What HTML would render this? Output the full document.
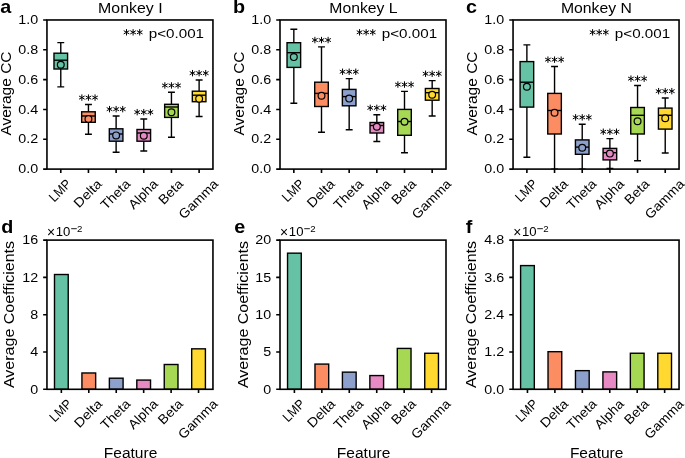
<!DOCTYPE html>
<html><head><meta charset="utf-8"><title>Figure</title><style>html,body{margin:0;padding:0;background:#fff;overflow:hidden}svg{display:block;will-change:transform;font-family:"Liberation Sans",sans-serif}</style></head><body>
<svg width="685" height="458" viewBox="0 0 685 458" font-family="Liberation Sans, sans-serif" fill="#000"><clipPath id="c00"><rect x="46.95" y="19.97" width="166" height="149.13"/></clipPath><g clip-path="url(#c00)">
<path d="M60.78 69V86.9M60.78 53.2V42.6M57.33 86.9H64.23M57.33 42.6H64.23" stroke="#000" stroke-width="1.4" fill="none"/>
<rect x="53.98" y="53.2" width="13.6" height="15.8" fill="#66c2a5" stroke="#000" stroke-width="1.4"/>
<path d="M53.98 60.2H67.58" stroke="#000" stroke-width="1.4"/>
<circle cx="60.78" cy="64.8" r="3.4" fill="#66c2a5" stroke="#000" stroke-width="1.2"/>
<path d="M88.45 122.3V134.3M88.45 111.8V104.45M85 134.3H91.9M85 104.45H91.9" stroke="#000" stroke-width="1.4" fill="none"/>
<rect x="81.65" y="111.8" width="13.6" height="10.5" fill="#fc8d62" stroke="#000" stroke-width="1.4"/>
<path d="M81.65 116H95.25" stroke="#000" stroke-width="1.4"/>
<circle cx="88.45" cy="119" r="3.4" fill="#fc8d62" stroke="#000" stroke-width="1.2"/>
<path d="M81.85 94.4V100.8M79.05 96L84.65 99.2M79.05 99.2L84.65 96M88.45 94.4V100.8M85.65 96L91.25 99.2M85.65 99.2L91.25 96M95.05 94.4V100.8M92.25 96L97.85 99.2M92.25 99.2L97.85 96" stroke="#000" stroke-width="1.0" fill="none"/>
<path d="M116.12 141.2V152.3M116.12 128.8V116M112.67 152.3H119.57M112.67 116H119.57" stroke="#000" stroke-width="1.4" fill="none"/>
<rect x="109.32" y="128.8" width="13.6" height="12.4" fill="#8da0cb" stroke="#000" stroke-width="1.4"/>
<path d="M109.32 134H122.92" stroke="#000" stroke-width="1.4"/>
<circle cx="116.12" cy="135.4" r="3.4" fill="#8da0cb" stroke="#000" stroke-width="1.2"/>
<path d="M109.52 105.95V112.35M106.72 107.55L112.32 110.75M106.72 110.75L112.32 107.55M116.12 105.95V112.35M113.32 107.55L118.92 110.75M113.32 110.75L118.92 107.55M122.72 105.95V112.35M119.92 107.55L125.52 110.75M119.92 110.75L125.52 107.55" stroke="#000" stroke-width="1.0" fill="none"/>
<path d="M143.78 141.2V151M143.78 129.5V119M140.33 151H147.23M140.33 119H147.23" stroke="#000" stroke-width="1.4" fill="none"/>
<rect x="136.98" y="129.5" width="13.6" height="11.7" fill="#e78ac3" stroke="#000" stroke-width="1.4"/>
<path d="M136.98 133H150.58" stroke="#000" stroke-width="1.4"/>
<circle cx="143.78" cy="135.8" r="3.4" fill="#e78ac3" stroke="#000" stroke-width="1.2"/>
<path d="M137.18 108.95V115.35M134.38 110.55L139.98 113.75M134.38 113.75L139.98 110.55M143.78 108.95V115.35M140.98 110.55L146.58 113.75M140.98 113.75L146.58 110.55M150.38 108.95V115.35M147.58 110.55L153.18 113.75M147.58 113.75L153.18 110.55" stroke="#000" stroke-width="1.0" fill="none"/>
<path d="M171.45 117.4V137.2M171.45 104.3V92.3M168 137.2H174.9M168 92.3H174.9" stroke="#000" stroke-width="1.4" fill="none"/>
<rect x="164.65" y="104.3" width="13.6" height="13.1" fill="#a6d854" stroke="#000" stroke-width="1.4"/>
<path d="M164.65 107H178.25" stroke="#000" stroke-width="1.4"/>
<circle cx="171.45" cy="112.2" r="3.4" fill="#a6d854" stroke="#000" stroke-width="1.2"/>
<path d="M164.85 82.25V88.65M162.05 83.85L167.65 87.05M162.05 87.05L167.65 83.85M171.45 82.25V88.65M168.65 83.85L174.25 87.05M168.65 87.05L174.25 83.85M178.05 82.25V88.65M175.25 83.85L180.85 87.05M175.25 87.05L180.85 83.85" stroke="#000" stroke-width="1.0" fill="none"/>
<path d="M199.12 101.7V116.5M199.12 91.2V80M195.67 116.5H202.57M195.67 80H202.57" stroke="#000" stroke-width="1.4" fill="none"/>
<rect x="192.32" y="91.2" width="13.6" height="10.5" fill="#ffd92f" stroke="#000" stroke-width="1.4"/>
<path d="M192.32 95.2H205.92" stroke="#000" stroke-width="1.4"/>
<circle cx="199.12" cy="98.7" r="3.4" fill="#ffd92f" stroke="#000" stroke-width="1.2"/>
<path d="M192.52 69.95V76.35M189.72 71.55L195.32 74.75M189.72 74.75L195.32 71.55M199.12 69.95V76.35M196.32 71.55L201.92 74.75M196.32 74.75L201.92 71.55M205.72 69.95V76.35M202.92 71.55L208.52 74.75M202.92 74.75L208.52 71.55" stroke="#000" stroke-width="1.0" fill="none"/>
</g>
<rect x="46.95" y="19.97" width="166" height="149.13" fill="none" stroke="#000" stroke-width="1.6" stroke-linejoin="miter"/>
<path d="M60.78 169.1v3.8M88.45 169.1v3.8M116.12 169.1v3.8M143.78 169.1v3.8M171.45 169.1v3.8M199.12 169.1v3.8M46.95 169.1h-3.8M46.95 139.27h-3.8M46.95 109.45h-3.8M46.95 79.62h-3.8M46.95 49.8h-3.8M46.95 19.97h-3.8" stroke="#000" stroke-width="1.6"/>
<text x="38.15" y="173.3" font-size="13.25" text-anchor="end" textLength="19.88" lengthAdjust="spacingAndGlyphs" style="">0.0</text>
<text x="38.15" y="143.47" font-size="13.25" text-anchor="end" textLength="19.88" lengthAdjust="spacingAndGlyphs" style="">0.2</text>
<text x="38.15" y="113.65" font-size="13.25" text-anchor="end" textLength="19.88" lengthAdjust="spacingAndGlyphs" style="">0.4</text>
<text x="38.15" y="83.82" font-size="13.25" text-anchor="end" textLength="19.88" lengthAdjust="spacingAndGlyphs" style="">0.6</text>
<text x="38.15" y="54" font-size="13.25" text-anchor="end" textLength="19.88" lengthAdjust="spacingAndGlyphs" style="">0.8</text>
<text x="38.15" y="24.17" font-size="13.25" text-anchor="end" textLength="19.88" lengthAdjust="spacingAndGlyphs" style="">1.0</text>
<text transform="translate(54.28 202.7) rotate(-45)" font-size="13.25" text-anchor="start" textLength="25.29" lengthAdjust="spacingAndGlyphs" style="">LMP</text>
<text transform="translate(79.1 208.4) rotate(-45)" font-size="13.25" text-anchor="start" textLength="33.35" lengthAdjust="spacingAndGlyphs" style="">Delta</text>
<text transform="translate(105.9 210.14) rotate(-45)" font-size="13.25" text-anchor="start" textLength="35.81" lengthAdjust="spacingAndGlyphs" style="">Theta</text>
<text transform="translate(133.66 209.95) rotate(-45)" font-size="13.25" text-anchor="start" textLength="35.54" lengthAdjust="spacingAndGlyphs" style="">Alpha</text>
<text transform="translate(163.7 205.2) rotate(-45)" font-size="13.25" text-anchor="start" textLength="28.83" lengthAdjust="spacingAndGlyphs" style="">Beta</text>
<text transform="translate(184.11 219.72) rotate(-45)" font-size="13.25" text-anchor="start" textLength="49.36" lengthAdjust="spacingAndGlyphs" style="">Gamma</text>
<text transform="translate(10.9 93.53) rotate(-90)" font-size="14.72" text-anchor="middle" textLength="84.11" lengthAdjust="spacingAndGlyphs" style="">Average CC</text>
<text x="130.35" y="13.3" font-size="14.72" text-anchor="middle" textLength="64.48" lengthAdjust="spacingAndGlyphs" style="">Monkey I</text>
<text x="204.05" y="37.8" font-size="13.25" text-anchor="end" textLength="55.28" lengthAdjust="spacingAndGlyphs" style="">p<0.001</text>
<path d="M126.5 29.1V35.5M123.7 30.7L129.3 33.9M123.7 33.9L129.3 30.7M133.1 29.1V35.5M130.3 30.7L135.9 33.9M130.3 33.9L135.9 30.7M139.7 29.1V35.5M136.9 30.7L142.5 33.9M136.9 33.9L142.5 30.7" stroke="#000" stroke-width="1.0" fill="none"/>
<text x="0.22" y="12.85" font-size="17.66" font-weight="bold" textLength="11" lengthAdjust="spacingAndGlyphs">a</text>
<clipPath id="c01"><rect x="280" y="19.97" width="166" height="149.13"/></clipPath><g clip-path="url(#c01)">
<path d="M293.83 67.4V103.2M293.83 42.7V29.2M290.38 103.2H297.28M290.38 29.2H297.28" stroke="#000" stroke-width="1.4" fill="none"/>
<rect x="287.03" y="42.7" width="13.6" height="24.7" fill="#66c2a5" stroke="#000" stroke-width="1.4"/>
<path d="M287.03 52.7H300.63" stroke="#000" stroke-width="1.4"/>
<circle cx="293.83" cy="57.1" r="3.4" fill="#66c2a5" stroke="#000" stroke-width="1.2"/>
<path d="M321.5 106.5V132.3M321.5 82.2V46.9M318.05 132.3H324.95M318.05 46.9H324.95" stroke="#000" stroke-width="1.4" fill="none"/>
<rect x="314.7" y="82.2" width="13.6" height="24.3" fill="#fc8d62" stroke="#000" stroke-width="1.4"/>
<path d="M314.7 93.4H328.3" stroke="#000" stroke-width="1.4"/>
<circle cx="321.5" cy="95.7" r="3.4" fill="#fc8d62" stroke="#000" stroke-width="1.2"/>
<path d="M314.9 36.85V43.25M312.1 38.45L317.7 41.65M312.1 41.65L317.7 38.45M321.5 36.85V43.25M318.7 38.45L324.3 41.65M318.7 41.65L324.3 38.45M328.1 36.85V43.25M325.3 38.45L330.9 41.65M325.3 41.65L330.9 38.45" stroke="#000" stroke-width="1.0" fill="none"/>
<path d="M349.17 105.8V129.7M349.17 89.4V78.6M345.72 129.7H352.62M345.72 78.6H352.62" stroke="#000" stroke-width="1.4" fill="none"/>
<rect x="342.37" y="89.4" width="13.6" height="16.4" fill="#8da0cb" stroke="#000" stroke-width="1.4"/>
<path d="M342.37 96.6H355.97" stroke="#000" stroke-width="1.4"/>
<circle cx="349.17" cy="98.6" r="3.4" fill="#8da0cb" stroke="#000" stroke-width="1.2"/>
<path d="M342.57 68.55V74.95M339.77 70.15L345.37 73.35M339.77 73.35L345.37 70.15M349.17 68.55V74.95M346.37 70.15L351.97 73.35M346.37 73.35L351.97 70.15M355.77 68.55V74.95M352.97 70.15L358.57 73.35M352.97 73.35L358.57 70.15" stroke="#000" stroke-width="1.0" fill="none"/>
<path d="M376.83 133V141.5M376.83 122.5V114.7M373.38 141.5H380.28M373.38 114.7H380.28" stroke="#000" stroke-width="1.4" fill="none"/>
<rect x="370.03" y="122.5" width="13.6" height="10.5" fill="#e78ac3" stroke="#000" stroke-width="1.4"/>
<path d="M370.03 125.5H383.63" stroke="#000" stroke-width="1.4"/>
<circle cx="376.83" cy="126.8" r="3.4" fill="#e78ac3" stroke="#000" stroke-width="1.2"/>
<path d="M370.23 104.65V111.05M367.43 106.25L373.03 109.45M367.43 109.45L373.03 106.25M376.83 104.65V111.05M374.03 106.25L379.63 109.45M374.03 109.45L379.63 106.25M383.43 104.65V111.05M380.63 106.25L386.23 109.45M380.63 109.45L386.23 106.25" stroke="#000" stroke-width="1.0" fill="none"/>
<path d="M404.5 135.3V152.7M404.5 109.4V91.4M401.05 152.7H407.95M401.05 91.4H407.95" stroke="#000" stroke-width="1.4" fill="none"/>
<rect x="397.7" y="109.4" width="13.6" height="25.9" fill="#a6d854" stroke="#000" stroke-width="1.4"/>
<path d="M397.7 121.5H411.3" stroke="#000" stroke-width="1.4"/>
<circle cx="404.5" cy="121.75" r="3.4" fill="#a6d854" stroke="#000" stroke-width="1.2"/>
<path d="M397.9 81.35V87.75M395.1 82.95L400.7 86.15M395.1 86.15L400.7 82.95M404.5 81.35V87.75M401.7 82.95L407.3 86.15M401.7 86.15L407.3 82.95M411.1 81.35V87.75M408.3 82.95L413.9 86.15M408.3 86.15L413.9 82.95" stroke="#000" stroke-width="1.0" fill="none"/>
<path d="M432.17 100.2V116M432.17 88.5V80.6M428.72 116H435.62M428.72 80.6H435.62" stroke="#000" stroke-width="1.4" fill="none"/>
<rect x="425.37" y="88.5" width="13.6" height="11.7" fill="#ffd92f" stroke="#000" stroke-width="1.4"/>
<path d="M425.37 92.7H438.97" stroke="#000" stroke-width="1.4"/>
<circle cx="432.17" cy="94.7" r="3.4" fill="#ffd92f" stroke="#000" stroke-width="1.2"/>
<path d="M425.57 70.55V76.95M422.77 72.15L428.37 75.35M422.77 75.35L428.37 72.15M432.17 70.55V76.95M429.37 72.15L434.97 75.35M429.37 75.35L434.97 72.15M438.77 70.55V76.95M435.97 72.15L441.57 75.35M435.97 75.35L441.57 72.15" stroke="#000" stroke-width="1.0" fill="none"/>
</g>
<rect x="280" y="19.97" width="166" height="149.13" fill="none" stroke="#000" stroke-width="1.6" stroke-linejoin="miter"/>
<path d="M293.83 169.1v3.8M321.5 169.1v3.8M349.17 169.1v3.8M376.83 169.1v3.8M404.5 169.1v3.8M432.17 169.1v3.8M280 169.1h-3.8M280 139.27h-3.8M280 109.45h-3.8M280 79.62h-3.8M280 49.8h-3.8M280 19.97h-3.8" stroke="#000" stroke-width="1.6"/>
<text x="271.2" y="173.3" font-size="13.25" text-anchor="end" textLength="19.88" lengthAdjust="spacingAndGlyphs" style="">0.0</text>
<text x="271.2" y="143.47" font-size="13.25" text-anchor="end" textLength="19.88" lengthAdjust="spacingAndGlyphs" style="">0.2</text>
<text x="271.2" y="113.65" font-size="13.25" text-anchor="end" textLength="19.88" lengthAdjust="spacingAndGlyphs" style="">0.4</text>
<text x="271.2" y="83.82" font-size="13.25" text-anchor="end" textLength="19.88" lengthAdjust="spacingAndGlyphs" style="">0.6</text>
<text x="271.2" y="54" font-size="13.25" text-anchor="end" textLength="19.88" lengthAdjust="spacingAndGlyphs" style="">0.8</text>
<text x="271.2" y="24.17" font-size="13.25" text-anchor="end" textLength="19.88" lengthAdjust="spacingAndGlyphs" style="">1.0</text>
<text transform="translate(287.33 202.7) rotate(-45)" font-size="13.25" text-anchor="start" textLength="25.29" lengthAdjust="spacingAndGlyphs" style="">LMP</text>
<text transform="translate(312.15 208.4) rotate(-45)" font-size="13.25" text-anchor="start" textLength="33.35" lengthAdjust="spacingAndGlyphs" style="">Delta</text>
<text transform="translate(338.95 210.14) rotate(-45)" font-size="13.25" text-anchor="start" textLength="35.81" lengthAdjust="spacingAndGlyphs" style="">Theta</text>
<text transform="translate(366.71 209.95) rotate(-45)" font-size="13.25" text-anchor="start" textLength="35.54" lengthAdjust="spacingAndGlyphs" style="">Alpha</text>
<text transform="translate(396.75 205.2) rotate(-45)" font-size="13.25" text-anchor="start" textLength="28.83" lengthAdjust="spacingAndGlyphs" style="">Beta</text>
<text transform="translate(417.16 219.72) rotate(-45)" font-size="13.25" text-anchor="start" textLength="49.36" lengthAdjust="spacingAndGlyphs" style="">Gamma</text>
<text transform="translate(243.95 93.53) rotate(-90)" font-size="14.72" text-anchor="middle" textLength="84.11" lengthAdjust="spacingAndGlyphs" style="">Average CC</text>
<text x="363.4" y="13.3" font-size="14.72" text-anchor="middle" textLength="68.24" lengthAdjust="spacingAndGlyphs" style="">Monkey L</text>
<text x="437.1" y="37.8" font-size="13.25" text-anchor="end" textLength="55.28" lengthAdjust="spacingAndGlyphs" style="">p<0.001</text>
<path d="M359.55 29.1V35.5M356.75 30.7L362.35 33.9M356.75 33.9L362.35 30.7M366.15 29.1V35.5M363.35 30.7L368.95 33.9M363.35 33.9L368.95 30.7M372.75 29.1V35.5M369.95 30.7L375.55 33.9M369.95 33.9L375.55 30.7" stroke="#000" stroke-width="1.0" fill="none"/>
<text x="232.9" y="12.85" font-size="17.66" font-weight="bold" textLength="12.08" lengthAdjust="spacingAndGlyphs">b</text>
<clipPath id="c02"><rect x="513.05" y="19.97" width="166" height="149.13"/></clipPath><g clip-path="url(#c02)">
<path d="M526.88 107.1V157.2M526.88 61.6V44.9M523.43 157.2H530.33M523.43 44.9H530.33" stroke="#000" stroke-width="1.4" fill="none"/>
<rect x="520.08" y="61.6" width="13.6" height="45.5" fill="#66c2a5" stroke="#000" stroke-width="1.4"/>
<path d="M520.08 82.2H533.68" stroke="#000" stroke-width="1.4"/>
<circle cx="526.88" cy="86.8" r="3.4" fill="#66c2a5" stroke="#000" stroke-width="1.2"/>
<path d="M554.55 134V169.1M554.55 93.4V66.5M551.1 169.1H558M551.1 66.5H558" stroke="#000" stroke-width="1.4" fill="none"/>
<rect x="547.75" y="93.4" width="13.6" height="40.6" fill="#fc8d62" stroke="#000" stroke-width="1.4"/>
<path d="M547.75 110.5H561.35" stroke="#000" stroke-width="1.4"/>
<circle cx="554.55" cy="112.7" r="3.4" fill="#fc8d62" stroke="#000" stroke-width="1.2"/>
<path d="M547.95 56.45V62.85M545.15 58.05L550.75 61.25M545.15 61.25L550.75 58.05M554.55 56.45V62.85M551.75 58.05L557.35 61.25M551.75 61.25L557.35 58.05M561.15 56.45V62.85M558.35 58.05L563.95 61.25M558.35 61.25L563.95 58.05" stroke="#000" stroke-width="1.0" fill="none"/>
<path d="M582.22 154.3V169.1M582.22 139.9V124.2M578.77 169.1H585.67M578.77 124.2H585.67" stroke="#000" stroke-width="1.4" fill="none"/>
<rect x="575.42" y="139.9" width="13.6" height="14.4" fill="#8da0cb" stroke="#000" stroke-width="1.4"/>
<path d="M575.42 147.1H589.02" stroke="#000" stroke-width="1.4"/>
<circle cx="582.22" cy="147.7" r="3.4" fill="#8da0cb" stroke="#000" stroke-width="1.2"/>
<path d="M575.62 114.15V120.55M572.82 115.75L578.42 118.95M572.82 118.95L578.42 115.75M582.22 114.15V120.55M579.42 115.75L585.02 118.95M579.42 118.95L585.02 115.75M588.82 114.15V120.55M586.02 115.75L591.62 118.95M586.02 118.95L591.62 115.75" stroke="#000" stroke-width="1.0" fill="none"/>
<path d="M609.88 159.9V168.4M609.88 148.4V138.6M606.43 168.4H613.33M606.43 138.6H613.33" stroke="#000" stroke-width="1.4" fill="none"/>
<rect x="603.08" y="148.4" width="13.6" height="11.5" fill="#e78ac3" stroke="#000" stroke-width="1.4"/>
<path d="M603.08 152.7H616.68" stroke="#000" stroke-width="1.4"/>
<circle cx="609.88" cy="153.6" r="3.4" fill="#e78ac3" stroke="#000" stroke-width="1.2"/>
<path d="M603.28 128.55V134.95M600.48 130.15L606.08 133.35M600.48 133.35L606.08 130.15M609.88 128.55V134.95M607.08 130.15L612.68 133.35M607.08 133.35L612.68 130.15M616.48 128.55V134.95M613.68 130.15L619.28 133.35M613.68 133.35L619.28 130.15" stroke="#000" stroke-width="1.0" fill="none"/>
<path d="M637.55 134V160.8M637.55 107.5V85.5M634.1 160.8H641M634.1 85.5H641" stroke="#000" stroke-width="1.4" fill="none"/>
<rect x="630.75" y="107.5" width="13.6" height="26.5" fill="#a6d854" stroke="#000" stroke-width="1.4"/>
<path d="M630.75 115.3H644.35" stroke="#000" stroke-width="1.4"/>
<circle cx="637.55" cy="121.2" r="3.4" fill="#a6d854" stroke="#000" stroke-width="1.2"/>
<path d="M630.95 75.45V81.85M628.15 77.05L633.75 80.25M628.15 80.25L633.75 77.05M637.55 75.45V81.85M634.75 77.05L640.35 80.25M634.75 80.25L640.35 77.05M644.15 75.45V81.85M641.35 77.05L646.95 80.25M641.35 80.25L646.95 77.05" stroke="#000" stroke-width="1.0" fill="none"/>
<path d="M665.22 129.1V153M665.22 108.1V98M661.77 153H668.67M661.77 98H668.67" stroke="#000" stroke-width="1.4" fill="none"/>
<rect x="658.42" y="108.1" width="13.6" height="21" fill="#ffd92f" stroke="#000" stroke-width="1.4"/>
<path d="M658.42 115.3H672.02" stroke="#000" stroke-width="1.4"/>
<circle cx="665.22" cy="118.3" r="3.4" fill="#ffd92f" stroke="#000" stroke-width="1.2"/>
<path d="M658.62 87.95V94.35M655.82 89.55L661.42 92.75M655.82 92.75L661.42 89.55M665.22 87.95V94.35M662.42 89.55L668.02 92.75M662.42 92.75L668.02 89.55M671.82 87.95V94.35M669.02 89.55L674.62 92.75M669.02 92.75L674.62 89.55" stroke="#000" stroke-width="1.0" fill="none"/>
</g>
<rect x="513.05" y="19.97" width="166" height="149.13" fill="none" stroke="#000" stroke-width="1.6" stroke-linejoin="miter"/>
<path d="M526.88 169.1v3.8M554.55 169.1v3.8M582.22 169.1v3.8M609.88 169.1v3.8M637.55 169.1v3.8M665.22 169.1v3.8M513.05 169.1h-3.8M513.05 139.27h-3.8M513.05 109.45h-3.8M513.05 79.62h-3.8M513.05 49.8h-3.8M513.05 19.97h-3.8" stroke="#000" stroke-width="1.6"/>
<text x="504.25" y="173.3" font-size="13.25" text-anchor="end" textLength="19.88" lengthAdjust="spacingAndGlyphs" style="">0.0</text>
<text x="504.25" y="143.47" font-size="13.25" text-anchor="end" textLength="19.88" lengthAdjust="spacingAndGlyphs" style="">0.2</text>
<text x="504.25" y="113.65" font-size="13.25" text-anchor="end" textLength="19.88" lengthAdjust="spacingAndGlyphs" style="">0.4</text>
<text x="504.25" y="83.82" font-size="13.25" text-anchor="end" textLength="19.88" lengthAdjust="spacingAndGlyphs" style="">0.6</text>
<text x="504.25" y="54" font-size="13.25" text-anchor="end" textLength="19.88" lengthAdjust="spacingAndGlyphs" style="">0.8</text>
<text x="504.25" y="24.17" font-size="13.25" text-anchor="end" textLength="19.88" lengthAdjust="spacingAndGlyphs" style="">1.0</text>
<text transform="translate(520.38 202.7) rotate(-45)" font-size="13.25" text-anchor="start" textLength="25.29" lengthAdjust="spacingAndGlyphs" style="">LMP</text>
<text transform="translate(545.2 208.4) rotate(-45)" font-size="13.25" text-anchor="start" textLength="33.35" lengthAdjust="spacingAndGlyphs" style="">Delta</text>
<text transform="translate(572 210.14) rotate(-45)" font-size="13.25" text-anchor="start" textLength="35.81" lengthAdjust="spacingAndGlyphs" style="">Theta</text>
<text transform="translate(599.76 209.95) rotate(-45)" font-size="13.25" text-anchor="start" textLength="35.54" lengthAdjust="spacingAndGlyphs" style="">Alpha</text>
<text transform="translate(629.8 205.2) rotate(-45)" font-size="13.25" text-anchor="start" textLength="28.83" lengthAdjust="spacingAndGlyphs" style="">Beta</text>
<text transform="translate(650.21 219.72) rotate(-45)" font-size="13.25" text-anchor="start" textLength="49.36" lengthAdjust="spacingAndGlyphs" style="">Gamma</text>
<text transform="translate(477 93.53) rotate(-90)" font-size="14.72" text-anchor="middle" textLength="84.11" lengthAdjust="spacingAndGlyphs" style="">Average CC</text>
<text x="596.45" y="13.3" font-size="14.72" text-anchor="middle" textLength="70.97" lengthAdjust="spacingAndGlyphs" style="">Monkey N</text>
<text x="670.15" y="37.8" font-size="13.25" text-anchor="end" textLength="55.28" lengthAdjust="spacingAndGlyphs" style="">p<0.001</text>
<path d="M592.6 29.1V35.5M589.8 30.7L595.4 33.9M589.8 33.9L595.4 30.7M599.2 29.1V35.5M596.4 30.7L602 33.9M596.4 33.9L602 30.7M605.8 29.1V35.5M603 30.7L608.6 33.9M603 33.9L608.6 30.7" stroke="#000" stroke-width="1.0" fill="none"/>
<text x="466.03" y="12.85" font-size="17.66" font-weight="bold" textLength="11" lengthAdjust="spacingAndGlyphs">c</text>
<clipPath id="c10"><rect x="46.95" y="240.1" width="166" height="149.2"/></clipPath><g clip-path="url(#c10)">
<rect x="54.5" y="274.51" width="13.72" height="114.79" fill="#66c2a5" stroke="#000" stroke-width="1.4"/>
<rect x="81.93" y="372.98" width="13.72" height="16.32" fill="#fc8d62" stroke="#000" stroke-width="1.4"/>
<rect x="109.37" y="378.2" width="13.72" height="11.1" fill="#8da0cb" stroke="#000" stroke-width="1.4"/>
<rect x="136.81" y="380.07" width="13.72" height="9.23" fill="#e78ac3" stroke="#000" stroke-width="1.4"/>
<rect x="164.25" y="364.5" width="13.72" height="24.8" fill="#a6d854" stroke="#000" stroke-width="1.4"/>
<rect x="191.69" y="348.83" width="13.72" height="40.47" fill="#ffd92f" stroke="#000" stroke-width="1.4"/>
</g>
<rect x="46.95" y="240.1" width="166" height="149.2" fill="none" stroke="#000" stroke-width="1.6" stroke-linejoin="miter"/>
<path d="M61.35 389.3v3.8M88.79 389.3v3.8M116.23 389.3v3.8M143.67 389.3v3.8M171.11 389.3v3.8M198.55 389.3v3.8M46.95 389.3h-3.8M46.95 352h-3.8M46.95 314.7h-3.8M46.95 277.4h-3.8M46.95 240.1h-3.8" stroke="#000" stroke-width="1.6"/>
<text x="38.15" y="393.5" font-size="13.25" text-anchor="end" textLength="7.95" lengthAdjust="spacingAndGlyphs" style="">0</text>
<text x="38.15" y="356.2" font-size="13.25" text-anchor="end" textLength="7.95" lengthAdjust="spacingAndGlyphs" style="">4</text>
<text x="38.15" y="318.9" font-size="13.25" text-anchor="end" textLength="7.95" lengthAdjust="spacingAndGlyphs" style="">8</text>
<text x="38.15" y="281.6" font-size="13.25" text-anchor="end" textLength="15.91" lengthAdjust="spacingAndGlyphs" style="">12</text>
<text x="38.15" y="244.3" font-size="13.25" text-anchor="end" textLength="15.91" lengthAdjust="spacingAndGlyphs" style="">16</text>
<text transform="translate(54.85 422.7) rotate(-45)" font-size="13.25" text-anchor="start" textLength="25.29" lengthAdjust="spacingAndGlyphs" style="">LMP</text>
<text transform="translate(79.44 428.4) rotate(-45)" font-size="13.25" text-anchor="start" textLength="33.35" lengthAdjust="spacingAndGlyphs" style="">Delta</text>
<text transform="translate(106.01 430.14) rotate(-45)" font-size="13.25" text-anchor="start" textLength="35.81" lengthAdjust="spacingAndGlyphs" style="">Theta</text>
<text transform="translate(133.54 429.95) rotate(-45)" font-size="13.25" text-anchor="start" textLength="35.54" lengthAdjust="spacingAndGlyphs" style="">Alpha</text>
<text transform="translate(163.35 425.2) rotate(-45)" font-size="13.25" text-anchor="start" textLength="28.83" lengthAdjust="spacingAndGlyphs" style="">Beta</text>
<text transform="translate(183.53 439.72) rotate(-45)" font-size="13.25" text-anchor="start" textLength="49.36" lengthAdjust="spacingAndGlyphs" style="">Gamma</text>
<text transform="translate(14.2 314.5) rotate(-90)" font-size="14.72" text-anchor="middle" textLength="147.06" lengthAdjust="spacingAndGlyphs" style="">Average Coefficients</text>
<text x="130.55" y="457.7" font-size="14.72" text-anchor="middle" textLength="53.55" lengthAdjust="spacingAndGlyphs" style="">Feature</text>
<text x="47.04" y="236.63" font-size="13.89" textLength="8.12" lengthAdjust="spacingAndGlyphs">×</text>
<text x="55.8" y="235.58" font-size="12.15" textLength="14.61" lengthAdjust="spacingAndGlyphs">10</text>
<path d="M71.2 228.7H76.8" stroke="#000" stroke-width="0.9"/>
<text x="77.11" y="231.5" font-size="8.88" textLength="5.37" lengthAdjust="spacingAndGlyphs">2</text>
<text x="1.29" y="232.75" font-size="17.66" font-weight="bold" textLength="12.08" lengthAdjust="spacingAndGlyphs">d</text>
<clipPath id="c11"><rect x="280" y="240.1" width="166" height="149.2"/></clipPath><g clip-path="url(#c11)">
<rect x="287.55" y="253.16" width="13.72" height="136.15" fill="#66c2a5" stroke="#000" stroke-width="1.4"/>
<rect x="314.98" y="364.09" width="13.72" height="25.21" fill="#fc8d62" stroke="#000" stroke-width="1.4"/>
<rect x="342.42" y="372.14" width="13.72" height="17.16" fill="#8da0cb" stroke="#000" stroke-width="1.4"/>
<rect x="369.86" y="375.57" width="13.72" height="13.73" fill="#e78ac3" stroke="#000" stroke-width="1.4"/>
<rect x="397.3" y="348.42" width="13.72" height="40.88" fill="#a6d854" stroke="#000" stroke-width="1.4"/>
<rect x="424.74" y="353.27" width="13.72" height="36.03" fill="#ffd92f" stroke="#000" stroke-width="1.4"/>
</g>
<rect x="280" y="240.1" width="166" height="149.2" fill="none" stroke="#000" stroke-width="1.6" stroke-linejoin="miter"/>
<path d="M294.4 389.3v3.8M321.84 389.3v3.8M349.28 389.3v3.8M376.72 389.3v3.8M404.16 389.3v3.8M431.6 389.3v3.8M280 389.3h-3.8M280 352h-3.8M280 314.7h-3.8M280 277.4h-3.8M280 240.1h-3.8" stroke="#000" stroke-width="1.6"/>
<text x="271.2" y="393.5" font-size="13.25" text-anchor="end" textLength="7.95" lengthAdjust="spacingAndGlyphs" style="">0</text>
<text x="271.2" y="356.2" font-size="13.25" text-anchor="end" textLength="7.95" lengthAdjust="spacingAndGlyphs" style="">5</text>
<text x="271.2" y="318.9" font-size="13.25" text-anchor="end" textLength="15.91" lengthAdjust="spacingAndGlyphs" style="">10</text>
<text x="271.2" y="281.6" font-size="13.25" text-anchor="end" textLength="15.91" lengthAdjust="spacingAndGlyphs" style="">15</text>
<text x="271.2" y="244.3" font-size="13.25" text-anchor="end" textLength="15.91" lengthAdjust="spacingAndGlyphs" style="">20</text>
<text transform="translate(287.9 422.7) rotate(-45)" font-size="13.25" text-anchor="start" textLength="25.29" lengthAdjust="spacingAndGlyphs" style="">LMP</text>
<text transform="translate(312.49 428.4) rotate(-45)" font-size="13.25" text-anchor="start" textLength="33.35" lengthAdjust="spacingAndGlyphs" style="">Delta</text>
<text transform="translate(339.06 430.14) rotate(-45)" font-size="13.25" text-anchor="start" textLength="35.81" lengthAdjust="spacingAndGlyphs" style="">Theta</text>
<text transform="translate(366.59 429.95) rotate(-45)" font-size="13.25" text-anchor="start" textLength="35.54" lengthAdjust="spacingAndGlyphs" style="">Alpha</text>
<text transform="translate(396.4 425.2) rotate(-45)" font-size="13.25" text-anchor="start" textLength="28.83" lengthAdjust="spacingAndGlyphs" style="">Beta</text>
<text transform="translate(416.58 439.72) rotate(-45)" font-size="13.25" text-anchor="start" textLength="49.36" lengthAdjust="spacingAndGlyphs" style="">Gamma</text>
<text transform="translate(247.9 314.5) rotate(-90)" font-size="14.72" text-anchor="middle" textLength="147.06" lengthAdjust="spacingAndGlyphs" style="">Average Coefficients</text>
<text x="363.6" y="457.7" font-size="14.72" text-anchor="middle" textLength="53.55" lengthAdjust="spacingAndGlyphs" style="">Feature</text>
<text x="280.09" y="236.63" font-size="13.89" textLength="8.12" lengthAdjust="spacingAndGlyphs">×</text>
<text x="288.85" y="235.58" font-size="12.15" textLength="14.61" lengthAdjust="spacingAndGlyphs">10</text>
<path d="M304.25 228.7H309.85" stroke="#000" stroke-width="0.9"/>
<text x="310.16" y="231.5" font-size="8.88" textLength="5.37" lengthAdjust="spacingAndGlyphs">2</text>
<text x="234.33" y="232.75" font-size="17.66" font-weight="bold" textLength="11" lengthAdjust="spacingAndGlyphs">e</text>
<clipPath id="c12"><rect x="513.05" y="240.1" width="166" height="149.2"/></clipPath><g clip-path="url(#c12)">
<rect x="520.6" y="265.59" width="13.72" height="123.71" fill="#66c2a5" stroke="#000" stroke-width="1.4"/>
<rect x="548.03" y="351.69" width="13.72" height="37.61" fill="#fc8d62" stroke="#000" stroke-width="1.4"/>
<rect x="575.47" y="370.65" width="13.72" height="18.65" fill="#8da0cb" stroke="#000" stroke-width="1.4"/>
<rect x="602.91" y="371.89" width="13.72" height="17.41" fill="#e78ac3" stroke="#000" stroke-width="1.4"/>
<rect x="630.35" y="353.24" width="13.72" height="36.06" fill="#a6d854" stroke="#000" stroke-width="1.4"/>
<rect x="657.79" y="353.24" width="13.72" height="36.06" fill="#ffd92f" stroke="#000" stroke-width="1.4"/>
</g>
<rect x="513.05" y="240.1" width="166" height="149.2" fill="none" stroke="#000" stroke-width="1.6" stroke-linejoin="miter"/>
<path d="M527.45 389.3v3.8M554.89 389.3v3.8M582.33 389.3v3.8M609.77 389.3v3.8M637.21 389.3v3.8M664.65 389.3v3.8M513.05 389.3h-3.8M513.05 352h-3.8M513.05 314.7h-3.8M513.05 277.4h-3.8M513.05 240.1h-3.8" stroke="#000" stroke-width="1.6"/>
<text x="504.25" y="393.5" font-size="13.25" text-anchor="end" textLength="19.88" lengthAdjust="spacingAndGlyphs" style="">0.0</text>
<text x="504.25" y="356.2" font-size="13.25" text-anchor="end" textLength="19.88" lengthAdjust="spacingAndGlyphs" style="">1.2</text>
<text x="504.25" y="318.9" font-size="13.25" text-anchor="end" textLength="19.88" lengthAdjust="spacingAndGlyphs" style="">2.4</text>
<text x="504.25" y="281.6" font-size="13.25" text-anchor="end" textLength="19.88" lengthAdjust="spacingAndGlyphs" style="">3.6</text>
<text x="504.25" y="244.3" font-size="13.25" text-anchor="end" textLength="19.88" lengthAdjust="spacingAndGlyphs" style="">4.8</text>
<text transform="translate(520.95 422.7) rotate(-45)" font-size="13.25" text-anchor="start" textLength="25.29" lengthAdjust="spacingAndGlyphs" style="">LMP</text>
<text transform="translate(545.54 428.4) rotate(-45)" font-size="13.25" text-anchor="start" textLength="33.35" lengthAdjust="spacingAndGlyphs" style="">Delta</text>
<text transform="translate(572.11 430.14) rotate(-45)" font-size="13.25" text-anchor="start" textLength="35.81" lengthAdjust="spacingAndGlyphs" style="">Theta</text>
<text transform="translate(599.64 429.95) rotate(-45)" font-size="13.25" text-anchor="start" textLength="35.54" lengthAdjust="spacingAndGlyphs" style="">Alpha</text>
<text transform="translate(629.45 425.2) rotate(-45)" font-size="13.25" text-anchor="start" textLength="28.83" lengthAdjust="spacingAndGlyphs" style="">Beta</text>
<text transform="translate(649.63 439.72) rotate(-45)" font-size="13.25" text-anchor="start" textLength="49.36" lengthAdjust="spacingAndGlyphs" style="">Gamma</text>
<text transform="translate(476.35 314.5) rotate(-90)" font-size="14.72" text-anchor="middle" textLength="147.06" lengthAdjust="spacingAndGlyphs" style="">Average Coefficients</text>
<text x="596.65" y="457.7" font-size="14.72" text-anchor="middle" textLength="53.55" lengthAdjust="spacingAndGlyphs" style="">Feature</text>
<text x="513.14" y="236.63" font-size="13.89" textLength="8.12" lengthAdjust="spacingAndGlyphs">×</text>
<text x="521.9" y="235.58" font-size="12.15" textLength="14.61" lengthAdjust="spacingAndGlyphs">10</text>
<path d="M537.3 228.7H542.9" stroke="#000" stroke-width="0.9"/>
<text x="543.21" y="231.5" font-size="8.88" textLength="5.37" lengthAdjust="spacingAndGlyphs">2</text>
<text x="465.86" y="232.75" font-size="17.66" font-weight="bold" textLength="6.59" lengthAdjust="spacingAndGlyphs">f</text></svg>
</body></html>
